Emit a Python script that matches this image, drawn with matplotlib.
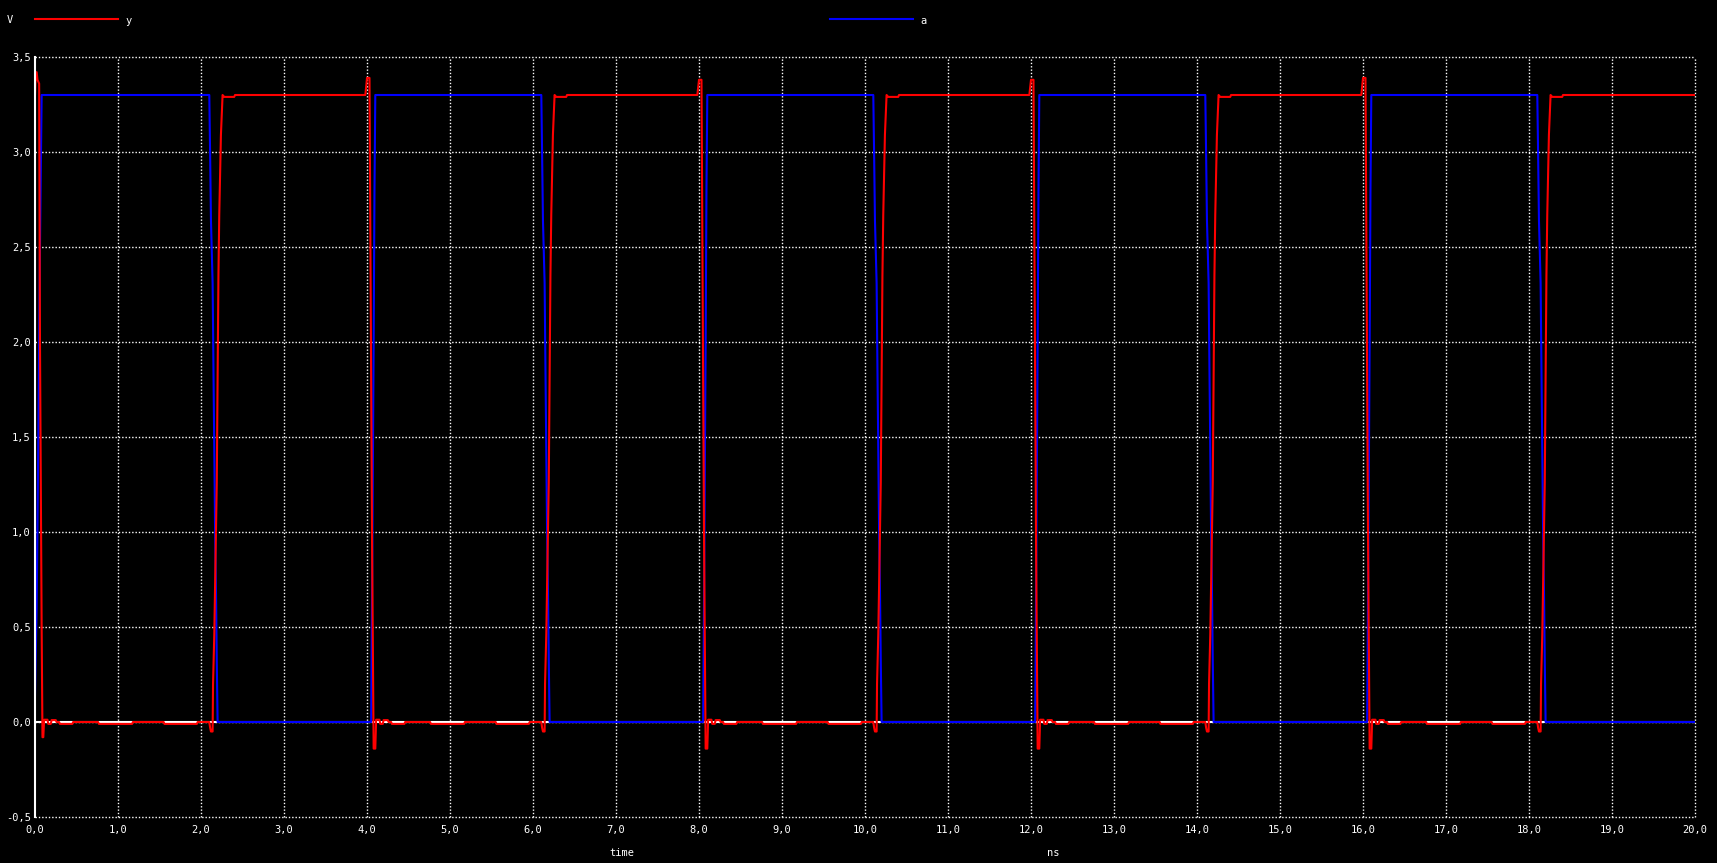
import matplotlib
matplotlib.use("Agg")
import matplotlib.pyplot as plt
import numpy as np
from matplotlib.lines import Line2D

# ---- values read off the waveform viewer (time in ns, volts) ----
# input "a": edge times and the shape of one edge
A_START_T = [0.0, 0.02, 0.04, 0.06, 0.08]
A_START_V = [0.14, 0.6, 1.5, 2.5, 3.3]
A_RISE_AT = [4.05, 8.05, 12.05, 16.05]
A_FALL_AT = [2.1, 6.1, 10.1, 14.1, 18.1]
A_RISE_DT = [0.0, 0.01, 0.02, 0.03, 0.04, 0.05]
A_RISE_DV = [0.0, 0.6, 1.3, 2.0, 2.8, 3.3]
A_FALL_DT = [0.0, 0.01, 0.02, 0.04, 0.05, 0.06, 0.07, 0.08, 0.09, 0.1]
A_FALL_DV = [3.3, 2.98, 2.64, 2.31, 1.86, 1.43, 0.99, 0.71, 0.32, 0.0]

# output "y"
Y_START_T = [0.0, 0.01, 0.02, 0.03, 0.05, 0.06, 0.08, 0.09, 0.1]
Y_START_V = [3.3, 3.42, 3.42, 3.38, 3.36, 2.0, 0.5, -0.08, -0.08]
Y_FALL_AT = [4.0, 8.0, 12.0, 16.0]
Y_SPIKE = [3.39, 3.38, 3.38, 3.39]
Y_UNDER = [-0.14, -0.14, -0.14, -0.14]
Y_FALL_DT = [-0.02, 0.0, 0.03, 0.04, 0.06, 0.08, 0.1]
Y_FALL_DV = [3.3, None, None, 2.6, 1.0, None, None]   # None -> spike / undershoot
# ringing + small steps near 0 V after a falling edge (offsets from the edge)
Y_LOW_DT = [0.11, 0.15, 0.16, 0.19, 0.2, 0.25, 0.26, 0.29, 0.3, 0.45, 0.46,
            0.76, 0.77, 1.17, 1.18, 1.55, 1.56, 1.95, 1.96]
Y_LOW_DV = [0.012, 0.012, -0.01, -0.01, 0.01, 0.01, 0.0, 0.0, -0.01, -0.01, 0.0,
            0.0, -0.01, -0.01, 0.0, 0.0, -0.01, -0.01, 0.0]
Y_RISE_AT = [2.1, 6.1, 10.1, 14.1, 18.1]
Y_RISE_DT = [0.0, 0.01, 0.02, 0.04, 0.045, 0.06, 0.07, 0.09, 0.1, 0.11, 0.12,
             0.13, 0.14, 0.15, 0.16, 0.18, 0.3, 0.31]
Y_RISE_DV = [0.0, -0.03, -0.05, -0.05, 0.2, 0.46, 0.72, 1.26, 1.8, 2.35, 2.67,
             2.88, 3.09, 3.2, 3.3, 3.29, 3.29, 3.3]
T_END = 20.0

XTICKS = np.arange(0, 21, 1.0)
YTICKS = np.arange(-0.5, 3.51, 0.5)


def build_a():
    t = list(A_START_T)
    v = list(A_START_V)
    for k in range(len(A_FALL_AT)):
        t += [A_FALL_AT[k] + d for d in A_FALL_DT]
        v += A_FALL_DV
        if k < len(A_RISE_AT):
            t += [A_RISE_AT[k] + d for d in A_RISE_DT]
            v += A_RISE_DV
    t.append(T_END)
    v.append(v[-1])
    return t, v


def build_y():
    t = list(Y_START_T)
    v = list(Y_START_V)
    t += [d for d in Y_LOW_DT]
    v += Y_LOW_DV
    for k in range(len(Y_RISE_AT)):
        t += [Y_RISE_AT[k] + d for d in Y_RISE_DT]
        v += Y_RISE_DV
        if k < len(Y_FALL_AT):
            T = Y_FALL_AT[k]
            for d, val in zip(Y_FALL_DT, Y_FALL_DV):
                if val is None:
                    val = Y_SPIKE[k] if d <= 0.03 else Y_UNDER[k]
                t.append(T + d)
                v.append(val)
            t += [T + d for d in Y_LOW_DT]
            v += Y_LOW_DV
    t.append(T_END)
    v.append(v[-1])
    return t, v


W, H = 1717, 863
fig = plt.figure(figsize=(W / 100, H / 100), dpi=100, facecolor="black")
ax = fig.add_axes([35 / W, 1 - 817 / H, 1660 / W, 760 / H])
ax.set_facecolor("black")

mono = "DejaVu Sans Mono"
fs = 7.5

ax.set_xlim(0, 20)
ax.set_ylim(-0.5, 3.5)
ax.set_xticks(XTICKS)
ax.set_yticks(YTICKS)
ax.set_xticklabels(["{:.1f}".format(x).replace(".", ",") for x in XTICKS],
                   family=mono, fontsize=fs, color="white")
ax.set_yticklabels(["{:.1f}".format(y).replace(".", ",") for y in YTICKS],
                   family=mono, fontsize=fs, color="white")
ax.tick_params(length=0, pad=3)
ax.tick_params(axis="x", pad=6)

for s in ["top", "right", "bottom"]:
    ax.spines[s].set_visible(False)
ax.spines["left"].set_color("white")
ax.spines["left"].set_linewidth(1.5)
ax.spines["left"].set_zorder(5)

# dotted grid, including the frame edges
for x in XTICKS[1:]:
    ax.axvline(x, color="white", lw=1.0, ls=(0, (1, 1.4)), zorder=1, clip_on=False)
for y in YTICKS:
    ax.axhline(y, color="white", lw=1.0, ls=(0, (1, 1.4)), zorder=1, clip_on=False)
ax.axhline(0, color="white", lw=1.5, zorder=2)

ta, va = build_a()
ty, vy = build_y()
ax.plot(ta, va, color="#0000ff", lw=1.5, zorder=3)
ax.plot(ty, vy, color="#ff0000", lw=1.5, zorder=4)

# header: unit + legend
fig.text(7 / W, 1 - 20 / H, "V", family=mono, fontsize=fs, color="white", va="center")
fig.add_artist(Line2D([35 / W, 118 / W], [1 - 19 / H, 1 - 19 / H], color="#ff0000", lw=1.5))
fig.text(125 / W, 1 - 21 / H, "y", family=mono, fontsize=fs, color="white", va="center")
fig.add_artist(Line2D([830 / W, 913 / W], [1 - 19 / H, 1 - 19 / H], color="#0000ff", lw=1.5))
fig.text(920 / W, 1 - 21 / H, "a", family=mono, fontsize=fs, color="white", va="center")

# x axis caption
fig.text(622 / W, 1 - 853 / H, "time", family=mono, fontsize=fs, color="white",
         ha="center", va="center")
fig.text(1053 / W, 1 - 853 / H, "ns", family=mono, fontsize=fs, color="white",
         ha="center", va="center")

fig.savefig("out.png", dpi=100, facecolor="black")
